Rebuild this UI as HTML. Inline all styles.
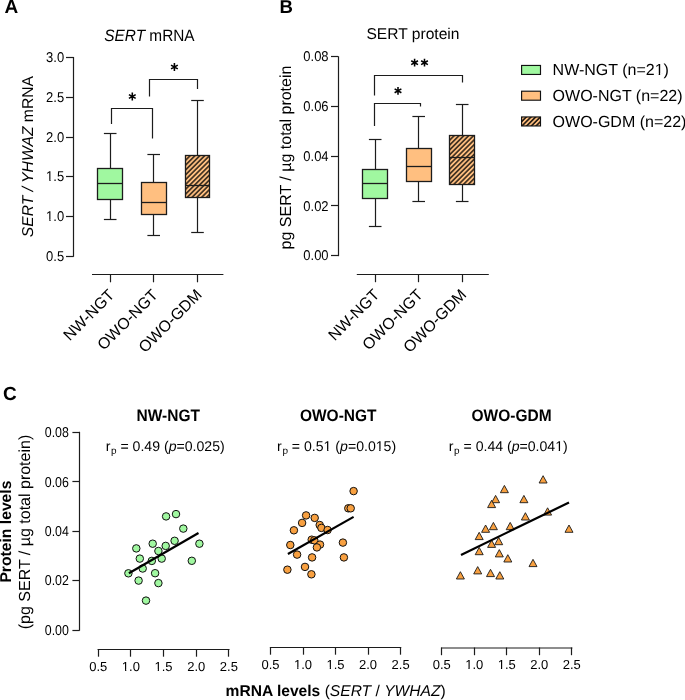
<!DOCTYPE html>
<html><head><meta charset="utf-8"><style>
html,body{margin:0;padding:0;background:#fff;width:685px;height:700px;overflow:hidden}
svg{display:block;will-change:transform}
text{font-family:"Liberation Sans", sans-serif;fill:#000;text-rendering:geometricPrecision}
</style></head><body>
<svg width="685" height="700" viewBox="0 0 685 700">
<rect width="685" height="700" fill="#fff"/>
<defs><pattern id="h0" patternUnits="userSpaceOnUse" width="3.42" height="3.42" patternTransform="translate(185.50,155.50) rotate(45)"><rect width="3.42" height="3.42" fill="#ffbf80"/><rect x="-0.625" y="-1" width="1.25" height="5.42" fill="#000"/><rect x="2.795" y="-1" width="1.25" height="5.42" fill="#000"/></pattern><pattern id="h1" patternUnits="userSpaceOnUse" width="3.42" height="3.42" patternTransform="translate(449.50,135.50) rotate(45)"><rect width="3.42" height="3.42" fill="#ffbf80"/><rect x="-0.625" y="-1" width="1.25" height="5.42" fill="#000"/><rect x="2.795" y="-1" width="1.25" height="5.42" fill="#000"/></pattern><pattern id="h2" patternUnits="userSpaceOnUse" width="3.32" height="3.32" patternTransform="translate(521.60,116.95) rotate(45)"><rect width="3.32" height="3.32" fill="#ffbf80"/><rect x="-0.700" y="-1" width="1.4" height="5.32" fill="#000"/><rect x="2.620" y="-1" width="1.4" height="5.32" fill="#000"/></pattern></defs>
<text x="4.60" y="13.00" font-size="19" text-anchor="start" font-weight="bold" font-style="normal" >A</text>
<text x="279.60" y="13.00" font-size="18.6" text-anchor="start" font-weight="bold" font-style="normal" >B</text>
<text x="2.90" y="400.40" font-size="19" text-anchor="start" font-weight="bold" font-style="normal" >C</text>
<text transform="translate(149.45,40.60) scale(1,1.07)" font-size="15.4" text-anchor="middle" font-weight="normal" font-style="normal" ><tspan font-style="italic">SERT</tspan> mRNA</text>
<text transform="translate(33.2,156.6) rotate(-90)" font-size="15.7" text-anchor="middle"><tspan font-style="italic">SERT / YHWAZ</tspan> mRNA</text>
<line x1="73.50" y1="57.00" x2="73.50" y2="256.70" stroke="#1c1c1c" stroke-width="1.2"/>
<line x1="66.00" y1="57.50" x2="73.60" y2="57.50" stroke="#1c1c1c" stroke-width="1.2"/>
<text transform="translate(64.20,62.20) scale(1,1.09)" font-size="13" text-anchor="end" font-weight="normal" font-style="normal" >3.0</text>
<line x1="66.00" y1="97.50" x2="73.60" y2="97.50" stroke="#1c1c1c" stroke-width="1.2"/>
<text transform="translate(64.20,101.90) scale(1,1.09)" font-size="13" text-anchor="end" font-weight="normal" font-style="normal" >2.5</text>
<line x1="66.00" y1="137.50" x2="73.60" y2="137.50" stroke="#1c1c1c" stroke-width="1.2"/>
<text transform="translate(64.20,141.60) scale(1,1.09)" font-size="13" text-anchor="end" font-weight="normal" font-style="normal" >2.0</text>
<line x1="66.00" y1="176.50" x2="73.60" y2="176.50" stroke="#1c1c1c" stroke-width="1.2"/>
<text transform="translate(64.20,181.30) scale(1,1.09)" font-size="13" text-anchor="end" font-weight="normal" font-style="normal" >1.5</text>
<line x1="66.00" y1="216.50" x2="73.60" y2="216.50" stroke="#1c1c1c" stroke-width="1.2"/>
<text transform="translate(64.20,221.00) scale(1,1.09)" font-size="13" text-anchor="end" font-weight="normal" font-style="normal" >1.0</text>
<line x1="66.00" y1="256.50" x2="73.60" y2="256.50" stroke="#1c1c1c" stroke-width="1.2"/>
<text transform="translate(64.20,260.70) scale(1,1.09)" font-size="13" text-anchor="end" font-weight="normal" font-style="normal" >0.5</text>
<line x1="92.00" y1="274.50" x2="223.40" y2="274.50" stroke="#1c1c1c" stroke-width="1.2"/>
<line x1="110.50" y1="274.70" x2="110.50" y2="282.30" stroke="#1c1c1c" stroke-width="1.2"/>
<line x1="153.50" y1="274.70" x2="153.50" y2="282.30" stroke="#1c1c1c" stroke-width="1.2"/>
<line x1="197.50" y1="274.70" x2="197.50" y2="282.30" stroke="#1c1c1c" stroke-width="1.2"/>
<text transform="translate(115.40,295.80) rotate(-45)" font-size="15.8" text-anchor="end">NW-NGT</text>
<text transform="translate(158.90,295.80) rotate(-45)" font-size="15.8" text-anchor="end">OWO-NGT</text>
<text transform="translate(202.70,295.80) rotate(-45)" font-size="15.8" text-anchor="end">OWO-GDM</text>
<line x1="110.50" y1="133.00" x2="110.50" y2="168.60" stroke="#1c1c1c" stroke-width="1.2"/>
<line x1="110.50" y1="199.40" x2="110.50" y2="219.40" stroke="#1c1c1c" stroke-width="1.2"/>
<line x1="103.90" y1="133.50" x2="116.50" y2="133.50" stroke="#1c1c1c" stroke-width="1.2"/>
<line x1="103.90" y1="219.50" x2="116.50" y2="219.50" stroke="#1c1c1c" stroke-width="1.2"/>
<rect x="97.50" y="168.50" width="25.00" height="31.00" fill="#a0f8a0" stroke="#1c1c1c" stroke-width="1.3"/>
<line x1="97.50" y1="183.50" x2="122.50" y2="183.50" stroke="#1c1c1c" stroke-width="1.3"/>
<line x1="153.50" y1="154.40" x2="153.50" y2="182.40" stroke="#1c1c1c" stroke-width="1.2"/>
<line x1="153.50" y1="214.40" x2="153.50" y2="235.20" stroke="#1c1c1c" stroke-width="1.2"/>
<line x1="147.40" y1="154.50" x2="160.00" y2="154.50" stroke="#1c1c1c" stroke-width="1.2"/>
<line x1="147.40" y1="235.50" x2="160.00" y2="235.50" stroke="#1c1c1c" stroke-width="1.2"/>
<rect x="141.50" y="182.50" width="25.00" height="32.00" fill="#ffbf80" stroke="#1c1c1c" stroke-width="1.3"/>
<line x1="141.50" y1="202.50" x2="166.50" y2="202.50" stroke="#1c1c1c" stroke-width="1.3"/>
<line x1="197.50" y1="100.60" x2="197.50" y2="155.20" stroke="#1c1c1c" stroke-width="1.2"/>
<line x1="197.50" y1="197.40" x2="197.50" y2="232.60" stroke="#1c1c1c" stroke-width="1.2"/>
<line x1="191.20" y1="100.50" x2="203.80" y2="100.50" stroke="#1c1c1c" stroke-width="1.2"/>
<line x1="191.20" y1="232.50" x2="203.80" y2="232.50" stroke="#1c1c1c" stroke-width="1.2"/>
<rect x="185.50" y="155.50" width="24.00" height="42.00" fill="url(#h0)" stroke="#1c1c1c" stroke-width="1.3"/>
<line x1="185.50" y1="185.50" x2="209.50" y2="185.50" stroke="#1c1c1c" stroke-width="1.3"/>
<polyline points="111.50,124.00 111.50,108.50 152.50,108.50 152.50,138.40" fill="none" stroke="#1c1c1c" stroke-width="1.2"/>
<path d="M132.30,92.60V100.40M128.92,94.55L135.68,98.45M128.92,98.45L135.68,94.55" stroke="#000" stroke-width="1.55" fill="none"/>
<polyline points="149.50,96.60 149.50,79.50 197.50,79.50 197.50,89.00" fill="none" stroke="#1c1c1c" stroke-width="1.2"/>
<path d="M174.40,63.10V70.90M171.02,65.05L177.78,68.95M171.02,68.95L177.78,65.05" stroke="#000" stroke-width="1.55" fill="none"/>
<text x="412.95" y="39.30" font-size="15.6" text-anchor="middle" font-weight="normal" font-style="normal" >SERT protein</text>
<text transform="translate(290.8,157.5) rotate(-90)" font-size="16" text-anchor="middle">pg SERT / µg total protein</text>
<line x1="338.50" y1="56.20" x2="338.50" y2="256.20" stroke="#1c1c1c" stroke-width="1.2"/>
<line x1="331.00" y1="56.50" x2="338.00" y2="56.50" stroke="#1c1c1c" stroke-width="1.2"/>
<text transform="translate(328.60,61.40) scale(1,1.09)" font-size="13" text-anchor="end" font-weight="normal" font-style="normal" >0.08</text>
<line x1="331.00" y1="106.50" x2="338.00" y2="106.50" stroke="#1c1c1c" stroke-width="1.2"/>
<text transform="translate(328.60,111.10) scale(1,1.09)" font-size="13" text-anchor="end" font-weight="normal" font-style="normal" >0.06</text>
<line x1="331.00" y1="156.50" x2="338.00" y2="156.50" stroke="#1c1c1c" stroke-width="1.2"/>
<text transform="translate(328.60,160.80) scale(1,1.09)" font-size="13" text-anchor="end" font-weight="normal" font-style="normal" >0.04</text>
<line x1="331.00" y1="205.50" x2="338.00" y2="205.50" stroke="#1c1c1c" stroke-width="1.2"/>
<text transform="translate(328.60,210.50) scale(1,1.09)" font-size="13" text-anchor="end" font-weight="normal" font-style="normal" >0.02</text>
<line x1="331.00" y1="255.50" x2="338.00" y2="255.50" stroke="#1c1c1c" stroke-width="1.2"/>
<text transform="translate(328.60,260.20) scale(1,1.09)" font-size="13" text-anchor="end" font-weight="normal" font-style="normal" >0.00</text>
<line x1="356.80" y1="274.50" x2="488.80" y2="274.50" stroke="#1c1c1c" stroke-width="1.2"/>
<line x1="375.50" y1="274.60" x2="375.50" y2="282.20" stroke="#1c1c1c" stroke-width="1.2"/>
<line x1="418.50" y1="274.60" x2="418.50" y2="282.20" stroke="#1c1c1c" stroke-width="1.2"/>
<line x1="462.50" y1="274.60" x2="462.50" y2="282.20" stroke="#1c1c1c" stroke-width="1.2"/>
<text transform="translate(380.40,295.70) rotate(-45)" font-size="15.8" text-anchor="end">NW-NGT</text>
<text transform="translate(423.90,295.70) rotate(-45)" font-size="15.8" text-anchor="end">OWO-NGT</text>
<text transform="translate(467.40,295.70) rotate(-45)" font-size="15.8" text-anchor="end">OWO-GDM</text>
<line x1="375.50" y1="139.20" x2="375.50" y2="169.40" stroke="#1c1c1c" stroke-width="1.2"/>
<line x1="375.50" y1="198.40" x2="375.50" y2="226.00" stroke="#1c1c1c" stroke-width="1.2"/>
<line x1="368.90" y1="139.50" x2="381.50" y2="139.50" stroke="#1c1c1c" stroke-width="1.2"/>
<line x1="368.90" y1="226.50" x2="381.50" y2="226.50" stroke="#1c1c1c" stroke-width="1.2"/>
<rect x="362.50" y="169.50" width="25.00" height="29.00" fill="#a0f8a0" stroke="#1c1c1c" stroke-width="1.3"/>
<line x1="362.50" y1="183.50" x2="387.50" y2="183.50" stroke="#1c1c1c" stroke-width="1.3"/>
<line x1="418.50" y1="116.60" x2="418.50" y2="148.60" stroke="#1c1c1c" stroke-width="1.2"/>
<line x1="418.50" y1="181.40" x2="418.50" y2="201.40" stroke="#1c1c1c" stroke-width="1.2"/>
<line x1="412.40" y1="116.50" x2="425.00" y2="116.50" stroke="#1c1c1c" stroke-width="1.2"/>
<line x1="412.40" y1="201.50" x2="425.00" y2="201.50" stroke="#1c1c1c" stroke-width="1.2"/>
<rect x="406.50" y="148.50" width="25.00" height="33.00" fill="#ffbf80" stroke="#1c1c1c" stroke-width="1.3"/>
<line x1="406.50" y1="166.50" x2="431.50" y2="166.50" stroke="#1c1c1c" stroke-width="1.3"/>
<line x1="462.50" y1="104.40" x2="462.50" y2="135.40" stroke="#1c1c1c" stroke-width="1.2"/>
<line x1="462.50" y1="184.00" x2="462.50" y2="201.40" stroke="#1c1c1c" stroke-width="1.2"/>
<line x1="455.90" y1="104.50" x2="468.50" y2="104.50" stroke="#1c1c1c" stroke-width="1.2"/>
<line x1="455.90" y1="201.50" x2="468.50" y2="201.50" stroke="#1c1c1c" stroke-width="1.2"/>
<rect x="449.50" y="135.50" width="25.00" height="49.00" fill="url(#h1)" stroke="#1c1c1c" stroke-width="1.3"/>
<line x1="449.50" y1="157.50" x2="474.50" y2="157.50" stroke="#1c1c1c" stroke-width="1.3"/>
<polyline points="374.50,95.60 374.50,75.50 462.50,75.50 462.50,82.40" fill="none" stroke="#1c1c1c" stroke-width="1.2"/>
<path d="M414.60,58.80V66.60M411.22,60.75L417.98,64.65M411.22,64.65L417.98,60.75" stroke="#000" stroke-width="1.55" fill="none"/>
<path d="M424.50,58.80V66.60M421.12,60.75L427.88,64.65M421.12,64.65L427.88,60.75" stroke="#000" stroke-width="1.55" fill="none"/>
<polyline points="374.50,126.00 374.50,103.50 420.50,103.50 420.50,106.40" fill="none" stroke="#1c1c1c" stroke-width="1.2"/>
<path d="M398.00,86.90V94.70M394.62,88.85L401.38,92.75M394.62,92.75L401.38,88.85" stroke="#000" stroke-width="1.55" fill="none"/>
<rect x="521.6" y="65.45" width="18.9" height="9.0" fill="#a0f8a0" stroke="#111" stroke-width="1.15"/>
<text x="552.60" y="74.70" font-size="16" text-anchor="start" font-weight="normal" font-style="normal" >NW-NGT (n=21)</text>
<rect x="521.6" y="91.20" width="18.9" height="9.0" fill="#ffbf80" stroke="#111" stroke-width="1.15"/>
<text x="552.60" y="101.05" font-size="16" text-anchor="start" font-weight="normal" font-style="normal" >OWO-NGT (n=22)</text>
<rect x="521.6" y="116.95" width="18.9" height="9.0" fill="url(#h2)" stroke="#111" stroke-width="1.15"/>
<text x="552.60" y="126.60" font-size="16" text-anchor="start" font-weight="normal" font-style="normal" >OWO-GDM (n=22)</text>
<line x1="79.50" y1="431.80" x2="79.50" y2="630.60" stroke="#1c1c1c" stroke-width="1.2"/>
<line x1="72.40" y1="432.50" x2="79.60" y2="432.50" stroke="#1c1c1c" stroke-width="1.2"/>
<text transform="translate(68.90,437.20) scale(1,1.15)" font-size="12.4" text-anchor="end" font-weight="normal" font-style="normal" >0.08</text>
<line x1="72.40" y1="481.50" x2="79.60" y2="481.50" stroke="#1c1c1c" stroke-width="1.2"/>
<text transform="translate(68.90,486.60) scale(1,1.15)" font-size="12.4" text-anchor="end" font-weight="normal" font-style="normal" >0.06</text>
<line x1="72.40" y1="531.50" x2="79.60" y2="531.50" stroke="#1c1c1c" stroke-width="1.2"/>
<text transform="translate(68.90,536.00) scale(1,1.15)" font-size="12.4" text-anchor="end" font-weight="normal" font-style="normal" >0.04</text>
<line x1="72.40" y1="580.50" x2="79.60" y2="580.50" stroke="#1c1c1c" stroke-width="1.2"/>
<text transform="translate(68.90,585.40) scale(1,1.15)" font-size="12.4" text-anchor="end" font-weight="normal" font-style="normal" >0.02</text>
<line x1="72.40" y1="630.50" x2="79.60" y2="630.50" stroke="#1c1c1c" stroke-width="1.2"/>
<text transform="translate(68.90,634.80) scale(1,1.15)" font-size="12.4" text-anchor="end" font-weight="normal" font-style="normal" >0.00</text>
<text transform="translate(11.1,531.6) rotate(-90)" font-size="15.7" font-weight="bold" text-anchor="middle">Protein levels</text>
<text transform="translate(29.9,532.0) rotate(-90)" font-size="16" text-anchor="middle">(pg SERT / µg total protein)</text>
<line x1="97.60" y1="649.50" x2="229.50" y2="649.50" stroke="#1c1c1c" stroke-width="1.2"/>
<line x1="98.50" y1="649.00" x2="98.50" y2="656.70" stroke="#1c1c1c" stroke-width="1.2"/>
<text x="98.20" y="670.80" font-size="13" text-anchor="middle" font-weight="normal" font-style="normal" >0.5</text>
<line x1="130.50" y1="649.00" x2="130.50" y2="656.70" stroke="#1c1c1c" stroke-width="1.2"/>
<text x="130.88" y="670.80" font-size="13" text-anchor="middle" font-weight="normal" font-style="normal" >1.0</text>
<line x1="163.50" y1="649.00" x2="163.50" y2="656.70" stroke="#1c1c1c" stroke-width="1.2"/>
<text x="163.55" y="670.80" font-size="13" text-anchor="middle" font-weight="normal" font-style="normal" >1.5</text>
<line x1="196.50" y1="649.00" x2="196.50" y2="656.70" stroke="#1c1c1c" stroke-width="1.2"/>
<text x="196.22" y="670.80" font-size="13" text-anchor="middle" font-weight="normal" font-style="normal" >2.0</text>
<line x1="228.50" y1="649.00" x2="228.50" y2="656.70" stroke="#1c1c1c" stroke-width="1.2"/>
<text x="228.90" y="670.80" font-size="13" text-anchor="middle" font-weight="normal" font-style="normal" >2.5</text>
<text transform="translate(168.25,420.90) scale(1,1.07)" font-size="15.5" text-anchor="middle" font-weight="bold" font-style="normal" >NW-NGT</text>
<text x="165.20" y="451.0" font-size="14.1" text-anchor="middle">r<tspan font-size="10" dx="0.6" dy="2.6">p</tspan><tspan dy="-2.6"> = 0.49 (</tspan><tspan font-style="italic">p</tspan>=0.025)</text>
<line x1="269.90" y1="647.50" x2="401.20" y2="647.50" stroke="#1c1c1c" stroke-width="1.2"/>
<line x1="270.50" y1="647.00" x2="270.50" y2="654.70" stroke="#1c1c1c" stroke-width="1.2"/>
<text x="270.50" y="668.80" font-size="13" text-anchor="middle" font-weight="normal" font-style="normal" >0.5</text>
<line x1="303.50" y1="647.00" x2="303.50" y2="654.70" stroke="#1c1c1c" stroke-width="1.2"/>
<text x="303.02" y="668.80" font-size="13" text-anchor="middle" font-weight="normal" font-style="normal" >1.0</text>
<line x1="335.50" y1="647.00" x2="335.50" y2="654.70" stroke="#1c1c1c" stroke-width="1.2"/>
<text x="335.55" y="668.80" font-size="13" text-anchor="middle" font-weight="normal" font-style="normal" >1.5</text>
<line x1="368.50" y1="647.00" x2="368.50" y2="654.70" stroke="#1c1c1c" stroke-width="1.2"/>
<text x="368.08" y="668.80" font-size="13" text-anchor="middle" font-weight="normal" font-style="normal" >2.0</text>
<line x1="400.50" y1="647.00" x2="400.50" y2="654.70" stroke="#1c1c1c" stroke-width="1.2"/>
<text x="400.60" y="668.80" font-size="13" text-anchor="middle" font-weight="normal" font-style="normal" >2.5</text>
<text transform="translate(338.25,420.90) scale(1,1.07)" font-size="15.5" text-anchor="middle" font-weight="bold" font-style="normal" >OWO-NGT</text>
<text x="336.60" y="451.0" font-size="14.1" text-anchor="middle">r<tspan font-size="10" dx="0.6" dy="2.6">p</tspan><tspan dy="-2.6"> = 0.51 (</tspan><tspan font-style="italic">p</tspan>=0.015)</text>
<line x1="441.10" y1="648.00" x2="572.40" y2="648.00" stroke="#1c1c1c" stroke-width="1.2"/>
<line x1="441.50" y1="647.50" x2="441.50" y2="655.20" stroke="#1c1c1c" stroke-width="1.2"/>
<text x="441.70" y="669.30" font-size="13" text-anchor="middle" font-weight="normal" font-style="normal" >0.5</text>
<line x1="474.50" y1="647.50" x2="474.50" y2="655.20" stroke="#1c1c1c" stroke-width="1.2"/>
<text x="474.22" y="669.30" font-size="13" text-anchor="middle" font-weight="normal" font-style="normal" >1.0</text>
<line x1="506.50" y1="647.50" x2="506.50" y2="655.20" stroke="#1c1c1c" stroke-width="1.2"/>
<text x="506.75" y="669.30" font-size="13" text-anchor="middle" font-weight="normal" font-style="normal" >1.5</text>
<line x1="539.50" y1="647.50" x2="539.50" y2="655.20" stroke="#1c1c1c" stroke-width="1.2"/>
<text x="539.27" y="669.30" font-size="13" text-anchor="middle" font-weight="normal" font-style="normal" >2.0</text>
<line x1="571.50" y1="647.50" x2="571.50" y2="655.20" stroke="#1c1c1c" stroke-width="1.2"/>
<text x="571.80" y="669.30" font-size="13" text-anchor="middle" font-weight="normal" font-style="normal" >2.5</text>
<text transform="translate(511.55,420.90) scale(1,1.07)" font-size="15.5" text-anchor="middle" font-weight="bold" font-style="normal" >OWO-GDM</text>
<text x="508.25" y="451.0" font-size="14.1" text-anchor="middle">r<tspan font-size="10" dx="0.6" dy="2.6">p</tspan><tspan dy="-2.6"> = 0.44 (</tspan><tspan font-style="italic">p</tspan>=0.041)</text>
<text x="335.6" y="696.0" font-size="15.6" text-anchor="middle"><tspan font-weight="bold">mRNA levels</tspan> (<tspan font-style="italic">SERT</tspan> / <tspan font-style="italic">YWHAZ</tspan>)</text>
<circle cx="166.1" cy="516.4" r="3.75" fill="#a0f8a0" stroke="#111" stroke-width="1.0"/>
<circle cx="176.0" cy="514.1" r="3.75" fill="#a0f8a0" stroke="#111" stroke-width="1.0"/>
<circle cx="183.3" cy="528.6" r="3.75" fill="#a0f8a0" stroke="#111" stroke-width="1.0"/>
<circle cx="199.4" cy="543.7" r="3.75" fill="#a0f8a0" stroke="#111" stroke-width="1.0"/>
<circle cx="152.7" cy="543.7" r="3.75" fill="#a0f8a0" stroke="#111" stroke-width="1.0"/>
<circle cx="165.7" cy="545.9" r="3.75" fill="#a0f8a0" stroke="#111" stroke-width="1.0"/>
<circle cx="174.6" cy="540.8" r="3.75" fill="#a0f8a0" stroke="#111" stroke-width="1.0"/>
<circle cx="136.3" cy="548.4" r="3.75" fill="#a0f8a0" stroke="#111" stroke-width="1.0"/>
<circle cx="158.4" cy="551.0" r="3.75" fill="#a0f8a0" stroke="#111" stroke-width="1.0"/>
<circle cx="139.8" cy="558.6" r="3.75" fill="#a0f8a0" stroke="#111" stroke-width="1.0"/>
<circle cx="151.8" cy="560.9" r="3.75" fill="#a0f8a0" stroke="#111" stroke-width="1.0"/>
<circle cx="161.7" cy="558.6" r="3.75" fill="#a0f8a0" stroke="#111" stroke-width="1.0"/>
<circle cx="191.8" cy="560.8" r="3.75" fill="#a0f8a0" stroke="#111" stroke-width="1.0"/>
<circle cx="142.7" cy="568.5" r="3.75" fill="#a0f8a0" stroke="#111" stroke-width="1.0"/>
<circle cx="128.4" cy="573.3" r="3.75" fill="#a0f8a0" stroke="#111" stroke-width="1.0"/>
<circle cx="155.1" cy="573.2" r="3.75" fill="#a0f8a0" stroke="#111" stroke-width="1.0"/>
<circle cx="138.6" cy="580.6" r="3.75" fill="#a0f8a0" stroke="#111" stroke-width="1.0"/>
<circle cx="158.4" cy="583.1" r="3.75" fill="#a0f8a0" stroke="#111" stroke-width="1.0"/>
<circle cx="146.0" cy="600.6" r="3.75" fill="#a0f8a0" stroke="#111" stroke-width="1.0"/>
<line x1="128.90" y1="573.30" x2="198.50" y2="533.00" stroke="#000" stroke-width="2.2"/>
<circle cx="353.6" cy="491.1" r="3.75" fill="#f8a040" stroke="#111" stroke-width="1.0"/>
<circle cx="348.3" cy="508.3" r="3.75" fill="#f8a040" stroke="#111" stroke-width="1.0"/>
<circle cx="350.7" cy="508.3" r="3.75" fill="#f8a040" stroke="#111" stroke-width="1.0"/>
<circle cx="306.1" cy="515.4" r="3.75" fill="#f8a040" stroke="#111" stroke-width="1.0"/>
<circle cx="314.7" cy="517.9" r="3.75" fill="#f8a040" stroke="#111" stroke-width="1.0"/>
<circle cx="302.1" cy="522.9" r="3.75" fill="#f8a040" stroke="#111" stroke-width="1.0"/>
<circle cx="319.7" cy="525.0" r="3.75" fill="#f8a040" stroke="#111" stroke-width="1.0"/>
<circle cx="321.4" cy="527.9" r="3.75" fill="#f8a040" stroke="#111" stroke-width="1.0"/>
<circle cx="327.6" cy="530.0" r="3.75" fill="#f8a040" stroke="#111" stroke-width="1.0"/>
<circle cx="293.9" cy="530.3" r="3.75" fill="#f8a040" stroke="#111" stroke-width="1.0"/>
<circle cx="311.7" cy="539.7" r="3.75" fill="#f8a040" stroke="#111" stroke-width="1.0"/>
<circle cx="314.3" cy="540.3" r="3.75" fill="#f8a040" stroke="#111" stroke-width="1.0"/>
<circle cx="342.9" cy="542.6" r="3.75" fill="#f8a040" stroke="#111" stroke-width="1.0"/>
<circle cx="290.3" cy="545.0" r="3.75" fill="#f8a040" stroke="#111" stroke-width="1.0"/>
<circle cx="320.0" cy="544.6" r="3.75" fill="#f8a040" stroke="#111" stroke-width="1.0"/>
<circle cx="316.9" cy="547.4" r="3.75" fill="#f8a040" stroke="#111" stroke-width="1.0"/>
<circle cx="297.1" cy="554.6" r="3.75" fill="#f8a040" stroke="#111" stroke-width="1.0"/>
<circle cx="312.1" cy="557.4" r="3.75" fill="#f8a040" stroke="#111" stroke-width="1.0"/>
<circle cx="343.9" cy="557.4" r="3.75" fill="#f8a040" stroke="#111" stroke-width="1.0"/>
<circle cx="305.0" cy="566.9" r="3.75" fill="#f8a040" stroke="#111" stroke-width="1.0"/>
<circle cx="287.4" cy="569.7" r="3.75" fill="#f8a040" stroke="#111" stroke-width="1.0"/>
<circle cx="311.4" cy="574.3" r="3.75" fill="#f8a040" stroke="#111" stroke-width="1.0"/>
<line x1="287.90" y1="554.00" x2="353.60" y2="516.90" stroke="#000" stroke-width="2.2"/>
<polygon points="543.10,475.70 547.10,483.00 539.10,483.00" fill="#f8a040" stroke="#1a1a1a" stroke-width="0.9" stroke-linejoin="miter"/>
<polygon points="504.40,485.40 508.40,492.70 500.40,492.70" fill="#f8a040" stroke="#1a1a1a" stroke-width="0.9" stroke-linejoin="miter"/>
<polygon points="495.60,495.40 499.60,502.70 491.60,502.70" fill="#f8a040" stroke="#1a1a1a" stroke-width="0.9" stroke-linejoin="miter"/>
<polygon points="491.60,500.30 495.60,507.60 487.60,507.60" fill="#f8a040" stroke="#1a1a1a" stroke-width="0.9" stroke-linejoin="miter"/>
<polygon points="523.90,495.40 527.90,502.70 519.90,502.70" fill="#f8a040" stroke="#1a1a1a" stroke-width="0.9" stroke-linejoin="miter"/>
<polygon points="547.60,507.80 551.60,515.10 543.60,515.10" fill="#f8a040" stroke="#1a1a1a" stroke-width="0.9" stroke-linejoin="miter"/>
<polygon points="525.40,512.70 529.40,520.00 521.40,520.00" fill="#f8a040" stroke="#1a1a1a" stroke-width="0.9" stroke-linejoin="miter"/>
<polygon points="493.40,522.40 497.40,529.70 489.40,529.70" fill="#f8a040" stroke="#1a1a1a" stroke-width="0.9" stroke-linejoin="miter"/>
<polygon points="485.60,525.00 489.60,532.30 481.60,532.30" fill="#f8a040" stroke="#1a1a1a" stroke-width="0.9" stroke-linejoin="miter"/>
<polygon points="510.20,522.40 514.20,529.70 506.20,529.70" fill="#f8a040" stroke="#1a1a1a" stroke-width="0.9" stroke-linejoin="miter"/>
<polygon points="569.00,525.00 573.00,532.30 565.00,532.30" fill="#f8a040" stroke="#1a1a1a" stroke-width="0.9" stroke-linejoin="miter"/>
<polygon points="479.20,532.30 483.20,539.60 475.20,539.60" fill="#f8a040" stroke="#1a1a1a" stroke-width="0.9" stroke-linejoin="miter"/>
<polygon points="498.70,537.40 502.70,544.70 494.70,544.70" fill="#f8a040" stroke="#1a1a1a" stroke-width="0.9" stroke-linejoin="miter"/>
<polygon points="491.60,540.10 495.60,547.40 487.60,547.40" fill="#f8a040" stroke="#1a1a1a" stroke-width="0.9" stroke-linejoin="miter"/>
<polygon points="479.20,547.40 483.20,554.70 475.20,554.70" fill="#f8a040" stroke="#1a1a1a" stroke-width="0.9" stroke-linejoin="miter"/>
<polygon points="499.30,549.60 503.30,556.90 495.30,556.90" fill="#f8a040" stroke="#1a1a1a" stroke-width="0.9" stroke-linejoin="miter"/>
<polygon points="507.80,554.70 511.80,562.00 503.80,562.00" fill="#f8a040" stroke="#1a1a1a" stroke-width="0.9" stroke-linejoin="miter"/>
<polygon points="533.00,559.30 537.00,566.60 529.00,566.60" fill="#f8a040" stroke="#1a1a1a" stroke-width="0.9" stroke-linejoin="miter"/>
<polygon points="477.70,566.60 481.70,573.90 473.70,573.90" fill="#f8a040" stroke="#1a1a1a" stroke-width="0.9" stroke-linejoin="miter"/>
<polygon points="490.50,569.30 494.50,576.60 486.50,576.60" fill="#f8a040" stroke="#1a1a1a" stroke-width="0.9" stroke-linejoin="miter"/>
<polygon points="499.80,571.70 503.80,579.00 495.80,579.00" fill="#f8a040" stroke="#1a1a1a" stroke-width="0.9" stroke-linejoin="miter"/>
<polygon points="460.40,571.70 464.40,579.00 456.40,579.00" fill="#f8a040" stroke="#1a1a1a" stroke-width="0.9" stroke-linejoin="miter"/>
<line x1="461.00" y1="554.90" x2="569.00" y2="502.50" stroke="#000" stroke-width="2.2"/>
<g transform="translate(64.20,181.30) scale(1,1.09)"><rect x="-18.09" y="-1.32" width="3.26" height="2.02" fill="#fff"/><rect x="-13.64" y="-1.32" width="2.96" height="2.02" fill="#fff"/></g>
<g transform="translate(64.20,221.00) scale(1,1.09)"><rect x="-18.09" y="-1.32" width="3.26" height="2.02" fill="#fff"/><rect x="-13.64" y="-1.32" width="2.96" height="2.02" fill="#fff"/></g>
<rect x="654.91" y="73.15" width="3.78" height="2.25" fill="#fff"/><rect x="660.15" y="73.15" width="3.46" height="2.25" fill="#fff"/>
<rect x="121.83" y="669.48" width="3.26" height="2.02" fill="#fff"/><rect x="126.28" y="669.48" width="2.96" height="2.02" fill="#fff"/>
<rect x="154.50" y="669.48" width="3.26" height="2.02" fill="#fff"/><rect x="158.95" y="669.48" width="2.96" height="2.02" fill="#fff"/>
<rect x="293.97" y="667.48" width="3.26" height="2.02" fill="#fff"/><rect x="298.42" y="667.48" width="2.96" height="2.02" fill="#fff"/>
<rect x="326.50" y="667.48" width="3.26" height="2.02" fill="#fff"/><rect x="330.95" y="667.48" width="2.96" height="2.02" fill="#fff"/>
<rect x="323.67" y="449.60" width="3.45" height="2.10" fill="#fff"/><rect x="328.41" y="449.60" width="3.14" height="2.10" fill="#fff"/>
<rect x="375.79" y="449.60" width="3.45" height="2.10" fill="#fff"/><rect x="380.53" y="449.60" width="3.14" height="2.10" fill="#fff"/>
<rect x="465.17" y="667.98" width="3.26" height="2.02" fill="#fff"/><rect x="469.62" y="667.98" width="2.96" height="2.02" fill="#fff"/>
<rect x="497.70" y="667.98" width="3.26" height="2.02" fill="#fff"/><rect x="502.15" y="667.98" width="2.96" height="2.02" fill="#fff"/>
<rect x="555.29" y="449.60" width="3.45" height="2.10" fill="#fff"/><rect x="560.03" y="449.60" width="3.14" height="2.10" fill="#fff"/>
</svg></body></html>
